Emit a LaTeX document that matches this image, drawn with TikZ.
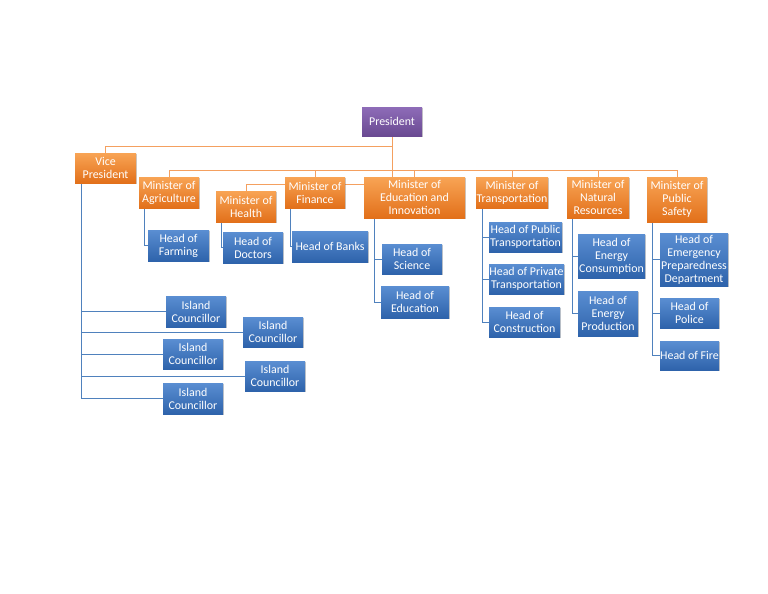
\documentclass[tikz,border=0pt]{standalone}
\usepackage{fontspec}
\setmainfont{Carlito}
\usetikzlibrary{shadows,backgrounds}
\definecolor{otop}{HTML}{F8A455}
\definecolor{obot}{HTML}{E2701A}
\definecolor{btop}{HTML}{5A8ED2}
\definecolor{bbot}{HTML}{2E63AB}
\definecolor{ptop}{HTML}{8E6CB8}
\definecolor{pbot}{HTML}{6A4A92}
\definecolor{oline}{HTML}{F4A060}
\definecolor{bline}{HTML}{4F81BD}
\tikzset{
  boxbase/.style={rectangle, inner sep=0pt, text=white, align=center,
    font=\fontsize{11.9}{13}\selectfont,
    drop shadow={shadow xshift=1.2pt, shadow yshift=-1.2pt, opacity=0.35, fill=black!60}},
  obox/.style={boxbase, top color=otop, bottom color=obot},
  bbox/.style={boxbase, top color=btop, bottom color=bbot},
  pbox/.style={boxbase, top color=ptop, bottom color=pbot},
  oln/.style={draw=oline, line width=0.9pt},
  bln/.style={draw=bline, line width=0.9pt},
  sz/.style 2 args={minimum width=#1pt, minimum height=#2pt},
}
\begin{document}
\begin{tikzpicture}[x=1pt,y=-1pt]
\useasboundingbox (0,0) rectangle (768,594);
% top level
\node[pbox,sz={60}{29}] (pres) at (392,121.5) {President};
\node[obox,sz={61}{30}] (vp) at (105.5,168) {Vice\\President};
% ministers
\node[obox,sz={60}{31}] (agr) at (169,192.5) {Minister of\\Agriculture};
\node[obox,sz={60}{31}] (hea) at (246,206.5) {Minister of\\Health};
\node[obox,sz={60}{31}] (fin) at (315,192.5) {Minister of\\Finance};
\node[obox,sz={101}{41}] (edu) at (414.5,197.5) {Minister of\\Education and\\Innovation};
\node[obox,sz={72}{31}] (tra) at (512,192.5) {Minister of\\Transportation};
\node[obox,sz={62}{41}] (nat) at (598,197.5) {Minister of\\Natural\\Resources};
\node[obox,sz={60}{45}] (saf) at (677,199.5) {Minister of\\Public\\Safety};
% heads
\node[bbox,sz={61}{31}] (farm) at (178.5,245.5) {Head of\\Farming};
\node[bbox,sz={60}{31}] (doc) at (253,247.5) {Head of\\Doctors};
\node[bbox,sz={76}{31}] (bank) at (330,246.5) {Head of Banks};
\node[bbox,sz={60}{30}] (sci) at (412,259) {Head of\\Science};
\node[bbox,sz={68}{32}] (educ) at (415,302) {Head of\\Education};
\node[bbox,sz={73}{30}] (pub) at (525.5,237) {Head of Public\\Transportation};
\node[bbox,sz={75}{30}] (pri) at (526.5,279) {Head of Private\\Transportation};
\node[bbox,sz={71}{30}] (con) at (524.5,322) {Head of\\Construction};
\node[bbox,sz={67}{44}] (ec) at (611.5,256) {Head of\\Energy\\Consumption};
\node[bbox,sz={60}{45}] (ep) at (608,313.5) {Head of\\Energy\\Production};
\node[bbox,sz={68}{53}] (em) at (694,259.5) {Head of\\Emergency\\Preparedness\\Department};
\node[bbox,sz={59}{30}] (pol) at (689.5,313) {Head of\\Police};
\node[bbox,sz={59}{29}] (fire) at (689.5,355.5) {Head of Fire};
% island councillors
\node[bbox,sz={60}{31}] (ic1) at (196,311.5) {Island\\Councillor};
\node[bbox,sz={60}{30}] (ic2) at (273,332) {Island\\Councillor};
\node[bbox,sz={60}{30}] (ic3) at (193,354) {Island\\Councillor};
\node[bbox,sz={60}{30}] (ic4) at (275,376) {Island\\Councillor};
\node[bbox,sz={60}{31}] (ic5) at (193,398.5) {Island\\Councillor};
\coordinate (bus) at (392,170.5);
\begin{scope}[on background layer]
% orange connectors
\draw[oln] (pres.south) -- ++(0,10) -| (vp.north);
\draw[oln] (pres.south) -- (pres.south |- edu.north);
\draw[oln] (bus) -| (agr.north);
\draw[oln] (bus) -| (fin.north);
\draw[oln] (bus) -| (edu.north);
\draw[oln] (bus) -| (tra.north);
\draw[oln] (bus) -| (nat.north);
\draw[oln] (bus) -| (saf.north);
\draw[oln] (hea.north) |- (392,184);
% blue connectors
\draw[bln] ([xshift=6pt]agr.south west) |- (farm.west);
\draw[bln] ([xshift=6pt]hea.south west) |- (doc.west);
\draw[bln] ([xshift=6pt]fin.south west) |- (bank.west);
\draw[bln] ([xshift=11pt]edu.south west) |- (sci.west);
\draw[bln] ([xshift=11pt]edu.south west) |- (educ.west);
\draw[bln] ([xshift=7pt]tra.south west) |- (pub.west);
\draw[bln] ([xshift=7pt]tra.south west) |- (pri.west);
\draw[bln] ([xshift=7pt]tra.south west) |- (con.west);
\draw[bln] ([xshift=6pt]nat.south west) |- (ec.west);
\draw[bln] ([xshift=6pt]nat.south west) |- (ep.west);
\draw[bln] ([xshift=6pt]saf.south west) |- (em.west);
\draw[bln] ([xshift=6pt]saf.south west) |- (pol.west);
\draw[bln] ([xshift=6pt]saf.south west) |- (fire.west);
\draw[bln] ([xshift=7pt]vp.south west) |- (ic1.west);
\draw[bln] ([xshift=7pt]vp.south west) |- (ic2.west);
\draw[bln] ([xshift=7pt]vp.south west) |- (ic3.west);
\draw[bln] ([xshift=7pt]vp.south west) |- (ic4.west);
\draw[bln] ([xshift=7pt]vp.south west) |- (ic5.west);
\end{scope}
\end{tikzpicture}
\end{document}
